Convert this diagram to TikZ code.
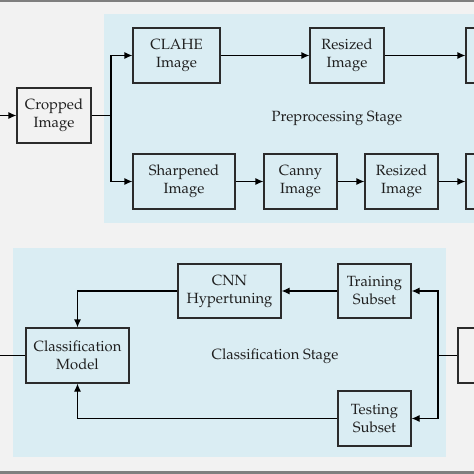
\documentclass[tikz,border=0pt]{standalone}
\usepackage[T1]{fontenc}
\renewcommand{\rmdefault}{ppl}
\usetikzlibrary{arrows.meta}

\definecolor{stagebg}{HTML}{DAEDF3}
\definecolor{pagebg}{HTML}{F2F2F2}
\definecolor{framegray}{HTML}{7F7F7F}
\definecolor{boxline}{HTML}{2B2B2B}

\begin{document}
\begin{tikzpicture}[x=1pt,y=-1pt,
    box/.style={draw=boxline,line width=1.2pt,fill=stagebg,minimum height=55pt,
        inner sep=0pt,align=center,text=black!88,font=\fontsize{14.8}{18}\selectfont},
    link/.style={-{Latex[length=8pt,width=7pt]},line width=1.2pt},
    stage/.style={text=black!88,font=\fontsize{14.8}{18}\selectfont}]
            % page and stage regions
            \useasboundingbox[fill=pagebg] (0,0) rectangle (474,474);
            \fill[framegray] (0,0) rectangle (474,2);
            \fill[framegray] (0,471) rectangle (474,474);
            \fill[stagebg] (104,14) rectangle (474,223);
            \fill[stagebg] (13,248) rectangle (446,457);

            \node[stage] (pre) at (337,118) {Preprocessing Stage};
            \node[stage] (cls) at (275,356) {Classification Stage};

            % preprocessing
            \node[box,fill=pagebg,minimum width=74pt]  (crop)   at (54,115.5)   {Cropped\\Image};
            \node[box,minimum width=87pt]  (clahe)  at (176.5,55.5)  {CLAHE\\Image};
            \node[box,minimum width=74pt]  (rsa)    at (347,55.5)    {Resized\\Image};
            \node[box,minimum width=74pt]  (outa)   at (503,55.5)    {};
            \node[box,minimum width=102pt] (sharp)  at (184,181.5)   {Sharpened\\Image};
            \node[box,minimum width=73pt]  (canny)  at (300.5,181.5) {Canny\\Image};
            \node[box,minimum width=73pt]  (rsb)    at (401.5,181.5) {Resized\\Image};
            \node[box,minimum width=74pt]  (outb)   at (503,181.5)   {};

            % classification
            \node[box,minimum width=103pt] (model)  at (77.5,355.5)  {Classification\\Model};
            \node[box,minimum width=103pt,minimum height=54pt] (cnn) at (229.5,291) {CNN\\Hypertuning};
            \node[box,minimum width=73pt,minimum height=54pt]  (train) at (374.5,291) {Training\\Subset};
            \node[box,minimum width=73pt]  (test)   at (374.5,418.5) {Testing\\Subset};
            \node[box,fill=pagebg,minimum width=74pt] (split) at (495,355.5) {};

            \coordinate (in)   at (0,115.5);
            \coordinate (back) at (0,355.5);
            \coordinate (fork) at (111,115.5);
            \coordinate (join) at (438,355.5);

            \draw[link] (in) -- (crop);
            \draw[line width=1.2pt] (crop) -- (fork);
            \draw[link] (fork) |- (clahe);
            \draw[link] (fork) |- (sharp);
            \draw[link] (clahe) -- (rsa);
            \draw[link] (rsa) -- (outa);
            \draw[link] (sharp) -- (canny);
            \draw[link] (canny) -- (rsb);
            \draw[link] (rsb) -- (outb);

            \draw[line width=1.2pt] (back) -- (model);
            \draw[line width=1.2pt] (split) -- (join);
            \draw[link] (join) |- (train);
            \draw[link] (join) |- (test);
            \draw[link] (train) -- (cnn);
            \draw[link] (cnn) -| (model);
            \draw[link] (test) -| (model);
\end{tikzpicture}
\end{document}
